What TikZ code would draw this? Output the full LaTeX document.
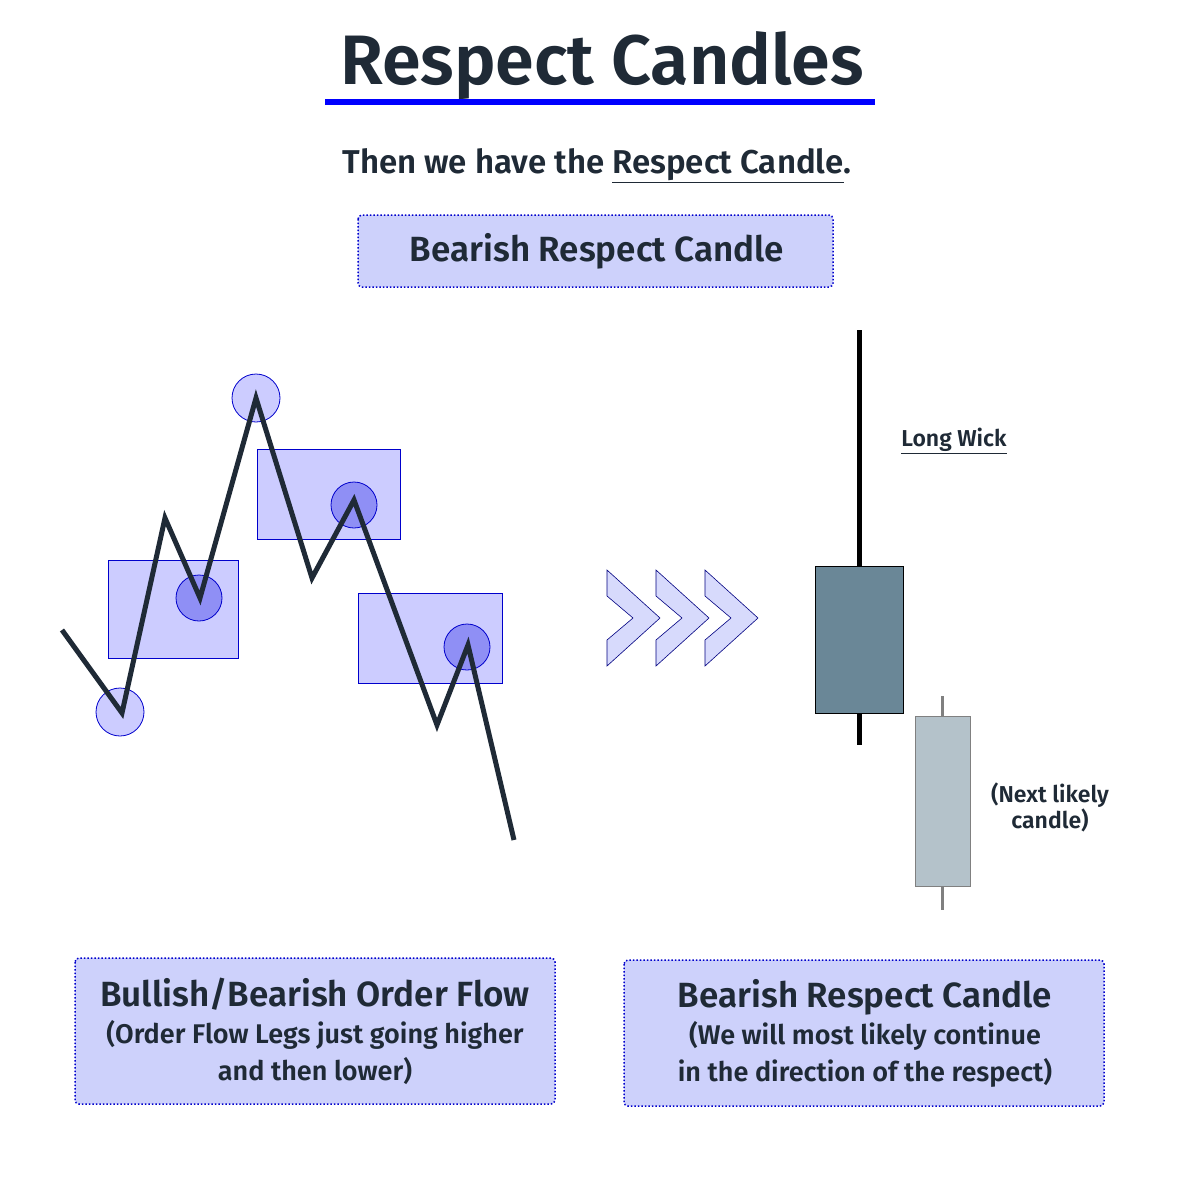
\documentclass[tikz,border=0pt]{standalone}
\usepackage{fontspec}
\setmainfont{Fira Sans}[BoldFont={Fira Sans SemiBold}]
\usetikzlibrary{positioning}
\definecolor{ink}{HTML}{1F2A36}
\definecolor{panel}{HTML}{CDD1FB}
\definecolor{zone}{HTML}{CCCCFF}
\definecolor{dot}{HTML}{8F8FF5}
\tikzset{
  note/.style={draw=blue!80!black, fill=panel, dotted, line width=1.5pt, rounded corners=4pt},
  zonebox/.style={draw=blue!80!black, fill=zone, line width=0.6pt},
  pivot/.style={circle, draw=blue!80!black, line width=0.8pt, minimum size=#1},
  chev/.style={draw=blue!50!black, fill=panel!80!white, line width=0.6pt},
}
\begin{document}
\begin{tikzpicture}[x=1pt,y=-1pt]
\useasboundingbox (0,0) rectangle (1200,1200);
% title
\node[text=ink, font=\fontsize{70}{74}\selectfont\bfseries] (title) at (602,66) {Respect Candles};
\draw[blue, line width=6pt] (325,102) -- (875,102);
\node[text=ink, font=\fontsize{33}{36}\selectfont\bfseries] (sub) at (597,166) {Then we have the \underline{Respect Candle}.};
% top box
\draw[note] (358,215) rectangle (833,287);
\node[text=ink, font=\fontsize{35}{38}\selectfont\bfseries] (head) at (597,251) {Bearish Respect Candle};
% zones
\draw[zonebox] (108,560) rectangle (238,658);
\draw[zonebox] (257,449) rectangle (400,539);
\draw[zonebox] (358,593) rectangle (502,683);
% pivots
\node[pivot=48pt, fill=zone] (p1) at (120,712) {};
\node[pivot=48pt, fill=zone] (p2) at (256,398) {};
\node[pivot=46pt, fill=dot] (p3) at (199,598) {};
\node[pivot=46pt, fill=dot] (p4) at (354,505) {};
\node[pivot=46pt, fill=dot] (p5) at (467,647) {};
% order flow
\draw[ink, line width=5pt, line join=miter] (62,630) -- (122,713) -- (165,518) -- (200,598)
  -- (256,398) -- (312,578) -- (354,500) -- (437,725) -- (468,645) -- (514,840);
% chevrons
\foreach \x in {607,656,705}
  \draw[chev] (\x,570) -- (\x+53,618) -- (\x,666) -- (\x,640) -- (\x+26,618) -- (\x,596) -- cycle;
% respect candle
\draw[black, line width=5pt] (859,330) -- (859,745);
\draw[fill={rgb,255:red,106;green,135;blue,151}, draw=black, line width=1pt] (815,566) rectangle (903,713);
\draw[gray, line width=3pt] (942,696) -- (942,910);
\draw[fill={rgb,255:red,180;green,194;blue,202}, draw=gray, line width=0.8pt] (915,716) rectangle (970,886);
\node[text=ink, font=\fontsize{23}{26}\selectfont\bfseries] (wick) at (954,441) {\underline{Long Wick}};
\node[text=ink, align=center, font=\fontsize{23}{26}\selectfont\bfseries] (next) at (1050,807) {(Next likely\\candle)};
% bottom boxes
\draw[note] (75,958) rectangle (555,1104);
\node[text=ink, align=center, font=\fontsize{27}{37}\selectfont\bfseries] (left) at (315,1031)
  {{\fontsize{35}{40}\selectfont Bullish/Bearish Order Flow}\\(Order Flow Legs just going higher\\and then lower)};
\draw[note] (624,960) rectangle (1104,1106);
\node[text=ink, align=center, font=\fontsize{27}{37}\selectfont\bfseries] (right) at (865,1033)
  {{\fontsize{35}{40}\selectfont Bearish Respect Candle}\\(We will most likely continue\\in the direction of the respect)};
\end{tikzpicture}
\end{document}
